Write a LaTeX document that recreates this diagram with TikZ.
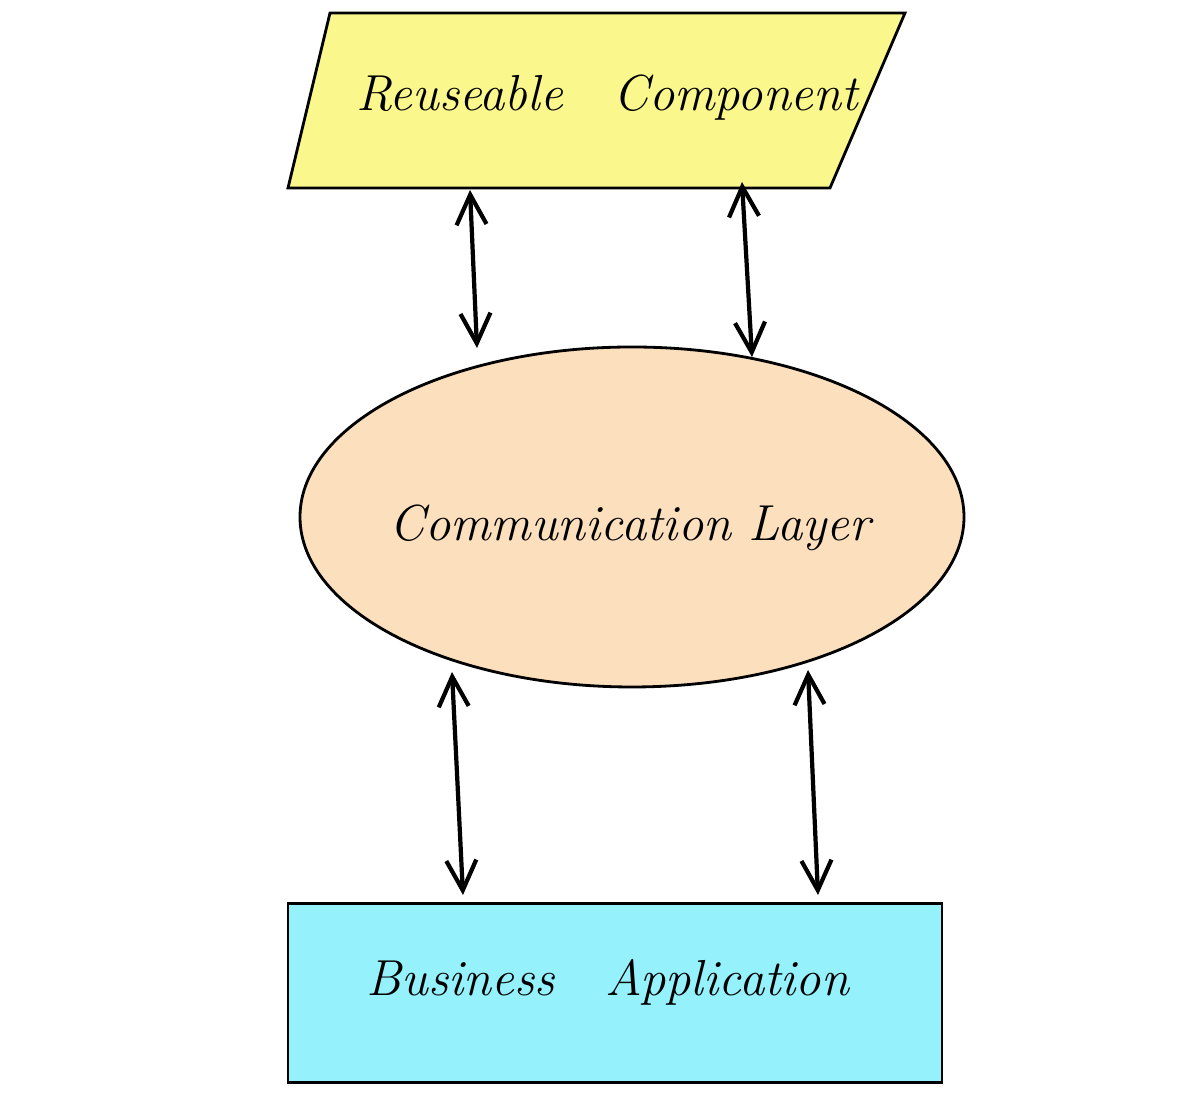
\documentclass[tikz,border=0pt]{standalone}
\usetikzlibrary{arrows.meta,positioning,shapes.geometric}
\definecolor{lyellow}{HTML}{FAF88C}
\definecolor{lpeach}{HTML}{FCE0BE}
\definecolor{lcyan}{HTML}{95F2FC}
\tikzstyle{none}=[inner sep=0pt]
\tikzstyle{label}=[inner sep=0pt,font=\Large\itshape]
\tikzstyle{layer}=[ellipse,fill=lpeach,draw=black,line width=0.8pt,minimum width=6.64cm,minimum height=3.4cm]
\tikzstyle{app}=[rectangle,fill=lcyan,draw=black,line width=0.8pt,minimum width=6.54cm,minimum height=1.79cm]
\tikzstyle{biarrow}=[{Straight Barb[length=3mm,width=3mm]}-{Straight Barb[length=3mm,width=3mm]},line width=1.2pt]
\begin{document}
\begin{tikzpicture}
	\useasboundingbox (0,0) rectangle (12,11);
		\node [style=none] (RTL) at (3.30,10.87) {};
		\node [style=none] (RTR) at (9.05,10.87) {};
		\node [style=none] (RBR) at (8.30,9.12) {};
		\node [style=none] (RBL) at (2.88,9.12) {};
		\fill [lyellow] (RTL.center) -- (RTR.center) -- (RBR.center) -- (RBL.center) -- cycle;
		\draw [line width=0.8pt] (RTL.center) -- (RTR.center) -- (RBR.center) -- (RBL.center) -- cycle;
		\node [style=label] (R) at (6.07,10.02) {Reuseable\quad Component};
		\node [style=layer] (C) at (6.32,5.83) {};
		\node [style=label] (Cl) at (6.30,5.72) {Communication Layer};
		\node [style=app] (B) at (6.15,1.07) {};
		\node [style=label] (Bl) at (6.08,1.18) {Business\quad Application};
		\node [style=none] (r1) at (4.70,9.10) {};
		\node [style=none] (c1) at (4.77,7.52) {};
		\node [style=none] (r2) at (7.42,9.18) {};
		\node [style=none] (c2) at (7.52,7.43) {};
		\node [style=none] (c3) at (4.52,4.28) {};
		\node [style=none] (b1) at (4.63,2.05) {};
		\node [style=none] (c4) at (8.08,4.30) {};
		\node [style=none] (b2) at (8.18,2.05) {};
		\draw [style=biarrow] (r1.center) to (c1.center);
		\draw [style=biarrow] (r2.center) to (c2.center);
		\draw [style=biarrow] (c3.center) to (b1.center);
		\draw [style=biarrow] (c4.center) to (b2.center);
\end{tikzpicture}
\end{document}
